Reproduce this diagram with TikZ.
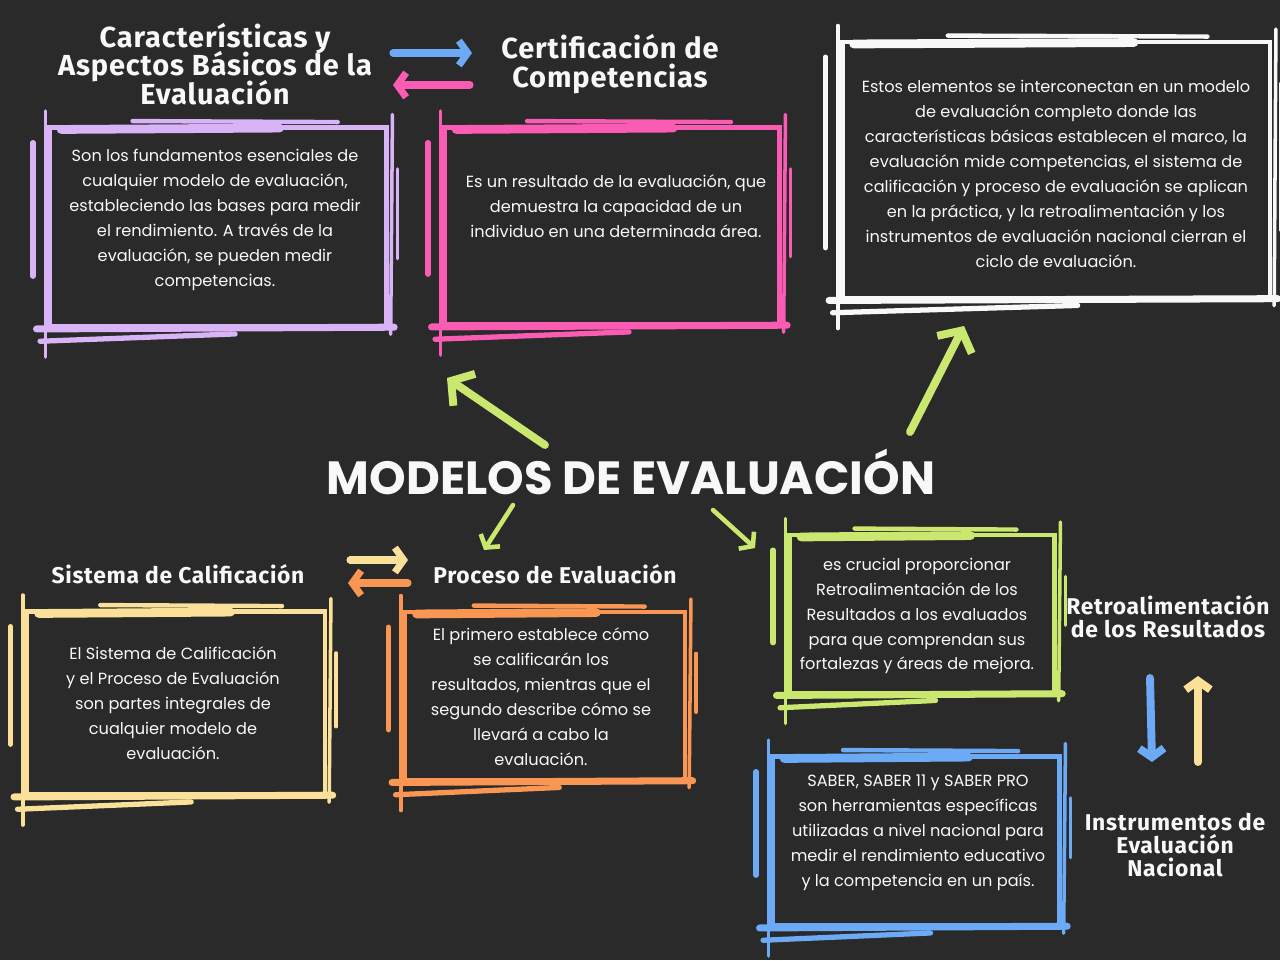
\documentclass[tikz,border=0pt]{standalone}
\usepackage{fontspec}
\setmainfont{Poppins}
\newfontfamily\headfont{Fira Sans}[LetterSpace=3]
\usetikzlibrary{arrows.meta, calc, positioning}
\definecolor{board}{RGB}{42, 42, 42}
\definecolor{lilac}{RGB}{216, 180, 246}
\definecolor{rosa}{RGB}{250, 92, 180}
\definecolor{crema}{RGB}{250, 224, 152}
\definecolor{naranja}{RGB}{250, 150, 84}
\definecolor{lima}{RGB}{202, 232, 112}
\definecolor{celeste}{RGB}{108, 170, 246}
\definecolor{tiza}{RGB}{248, 248, 248}
\newcommand{\tightlines}{\lineskiplimit=-20pt\relax}

% rough chalk strokes round a frame node
\newcommand{\chalkframe}[2]{%
  \draw[#2, line width=5pt] ([xshift=8pt,yshift=-2.5pt]#1.north west) -- ($(#1.north west)!0.68!(#1.north east)+(0,3)$);
  \draw[#2, line width=2.5pt] ($(#1.north west)!0.25!(#1.north east)+(0,-4)$) -- ($(#1.north west)!0.85!(#1.north east)+(0,-3)$);
  \draw[#2, line width=4pt] ([xshift=-6pt]#1.south west) -- ([xshift=3pt,yshift=1pt]#1.south east);
  \draw[#2, line width=3pt] ([xshift=-4pt,yshift=-7pt]#1.south west) -- ($(#1.south west)!0.55!(#1.south east)+(0,5)$);
  \draw[#2, line width=2pt] ([xshift=-1pt,yshift=8pt]#1.north west) -- ([xshift=-1pt,yshift=-16pt]#1.south west);
  \draw[#2, line width=3pt] ([xshift=-8pt,yshift=-10pt]#1.north west) -- ([xshift=-8pt,yshift=30pt]#1.south west);
  \draw[#2, line width=2pt] ([xshift=2pt,yshift=6pt]#1.north east) -- ([xshift=1pt,yshift=-3pt]#1.south east);
  \draw[#2, line width=2pt] ([xshift=5pt,yshift=-25pt]#1.north east) -- ([xshift=5pt,yshift=40pt]#1.south east);
}

\begin{document}
\begin{tikzpicture}[x=0.02cm, y=-0.02cm, line cap=round,
    frame/.style={draw=#1, line width=2.8pt, inner sep=0pt},
    body/.style={text=tiza, align=center, inner sep=0pt, font=\fontsize{9.2}{14.2}\selectfont},
    head/.style={text=tiza, align=center, inner sep=0pt, font=\headfont\bfseries\fontsize{13}{13.2}\selectfont},
    bighead/.style={head, font=\headfont\bfseries\fontsize{16.5}{16.4}\selectfont\tightlines},
    bigarrow/.style={lima, line width=4.5pt, -{Straight Barb[length=9pt, width=22pt]}},
    smallarrow/.style={lima, line width=2.6pt, -{Straight Barb[length=5pt, width=13pt]}},
    pair/.style={line width=4pt, -{Straight Barb[length=5pt, width=14pt]}}]

    \useasboundingbox (0,0) rectangle (1280,960);
    \fill[board] (0,0) rectangle (1280,960);

    % Headings
    \node[bighead] (hcar) at (215,64) {Características y\\Aspectos Básicos de la\\Evaluación};
    \node[bighead] (hcert) at (610,64) {Certificación de\\Competencias};
    \node[font=\bfseries\fontsize{26.5}{30}\selectfont, text=tiza, inner sep=0pt] (modelos) at (631,472) {MODELOS DE EVALUACIÓN};
    \node[head] (hsis) at (178,574) {Sistema de Calificación};
    \node[head] (hproc) at (555,574) {Proceso de Evaluación};
    \node[head] (hretro) at (1168,617) {Retroalimentación\\de los Resultados};
    \node[head] (hinst) at (1175,845) {Instrumentos de\\Evaluación\\Nacional};

    % Frames
    \node[frame=lilac, minimum width=6.74cm, minimum height=3.98cm] (fcar) at (218,227) {};
    \node[frame=rosa, minimum width=6.7cm, minimum height=3.94cm] (fcert) at (612,226) {};
    \node[frame=tiza, minimum width=8.56cm, minimum height=5.12cm] (fmod) at (1056,170) {};
    \node[frame=crema, minimum width=5.96cm, minimum height=3.66cm] (fsis) at (176,703) {};
    \node[frame=naranja, minimum width=5.6cm, minimum height=3.36cm] (fproc) at (545,696) {};
    \node[frame=lima, minimum width=5.3cm, minimum height=3.16cm] (fretro) at (922,614) {};
    \node[frame=celeste, minimum width=5.74cm, minimum height=3.38cm] (finst) at (916,841) {};
    \chalkframe{fcar}{lilac}
    \chalkframe{fcert}{rosa}
    \chalkframe{fmod}{tiza}
    \chalkframe{fsis}{crema}
    \chalkframe{fproc}{naranja}
    \chalkframe{fretro}{lima}
    \chalkframe{finst}{celeste}

    % Texts
    \node[body] (tcar) at (215,220) {Son los fundamentos esenciales de\\cualquier modelo de evaluación,\\estableciendo las bases para medir\\el rendimiento. A través de la\\evaluación, se pueden medir\\competencias.};
    \node[body] (tcert) at (616,206) {Es un resultado de la evaluación, que\\demuestra la capacidad de un\\individuo en una determinada área.};
    \node[body] (tmod) at (1056,174) {Estos elementos se interconectan en un modelo\\de evaluación completo donde las\\características básicas establecen el marco, la\\evaluación mide competencias, el sistema de\\calificación y proceso de evaluación se aplican\\en la práctica, y la retroalimentación y los\\instrumentos de evaluación nacional cierran el\\ciclo de evaluación.};
    \node[body] (tsis) at (173,703) {El Sistema de Calificación\\y el Proceso de Evaluación\\son partes integrales de\\cualquier modelo de\\evaluación.};
    \node[body] (tproc) at (541,697) {El primero establece cómo\\se calificarán los\\resultados, mientras que el\\segundo describe cómo se\\llevará a cabo la\\evaluación.};
    \node[body] (tretro) at (917,616) {es crucial proporcionar\\Retroalimentación de los\\Resultados a los evaluados\\para que comprendan sus\\fortalezas y áreas de mejora.};
    \node[body] (tinst) at (918,833) {SABER, SABER 11 y SABER PRO\\son herramientas específicas\\utilizadas a nivel nacional para\\medir el rendimiento educativo\\y la competencia en un país.};

    % Arrow ends
    \coordinate (ca1) at (393,53);  \coordinate (ca2) at (472,53);
    \coordinate (cb1) at (470,85);  \coordinate (cb2) at (393,85);
    \coordinate (cc1) at (350,560); \coordinate (cc2) at (408,560);
    \coordinate (cd1) at (408,583); \coordinate (cd2) at (348,583);
    \coordinate (ce1) at (545,445); \coordinate (ce2) at (447,378);
    \coordinate (cf1) at (910,432); \coordinate (cf2) at (964,326);
    \coordinate (cg1) at (513,505); \coordinate (cg2) at (484,550);
    \coordinate (ch1) at (713,510); \coordinate (ch2) at (755,548);
    \coordinate (ci1) at (1150,678); \coordinate (ci2) at (1152,762);
    \coordinate (cj1) at (1198,762); \coordinate (cj2) at (1198,676);

    % Arrows
    \draw[pair, celeste] (ca1) -- (ca2);
    \draw[pair, rosa] (cb1) -- (cb2);
    \draw[pair, crema] (cc1) -- (cc2);
    \draw[pair, naranja] (cd1) -- (cd2);
    \draw[bigarrow] (ce1) -- (ce2);
    \draw[bigarrow] (cf1) -- (cf2);
    \draw[smallarrow] (cg1) -- (cg2);
    \draw[smallarrow] (ch1) -- (ch2);
    \draw[pair, celeste, line width=4.5pt] (ci1) -- (ci2);
    \draw[pair, crema, line width=4.5pt] (cj1) -- (cj2);
\end{tikzpicture}
\end{document}
